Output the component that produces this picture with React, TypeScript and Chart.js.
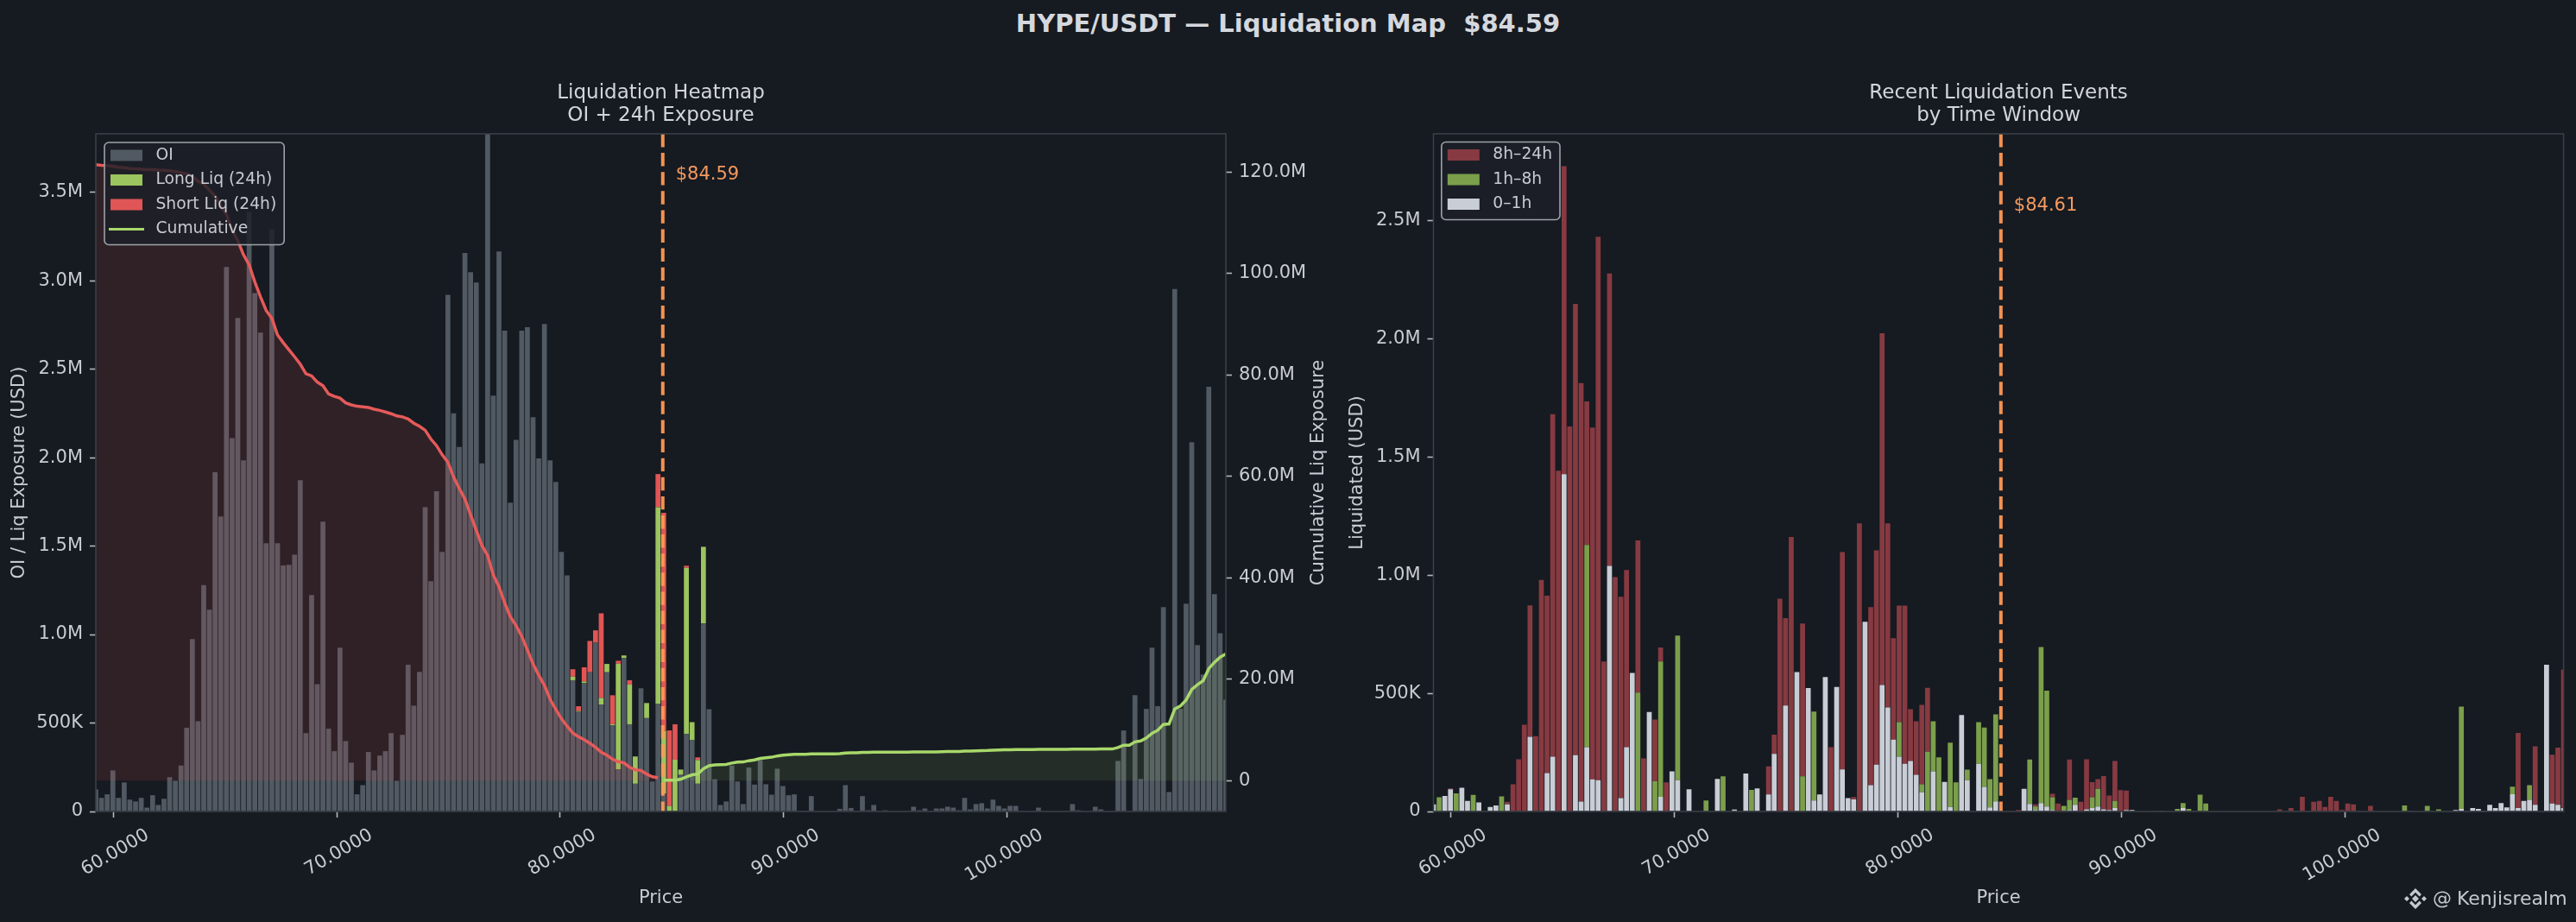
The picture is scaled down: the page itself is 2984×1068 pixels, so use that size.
import { useEffect, useRef } from "react";
import { Chart, registerables } from "chart.js";

Chart.register(...registerables);

const FONT = "'DejaVu Sans', 'Liberation Sans', sans-serif";
const BG = "#161a21";
const TEXT = "#c8ccd2";
const TICK = "#b4b8be";

// price bins (USD): centre of the first bin and bin width
const BIN_START = 59.22;
const BIN_STEP = 0.2541;
const X_TICKS = [60, 70, 80, 90, 100];

const PRICE_LEFT = 84.59;
const PRICE_RIGHT = 84.61;

// ---- left panel, USD millions per price bin ----
const OI = [
  0.125, 0.077, 0.097, 0.232, 0.077, 0.164, 0.067, 0.057, 0.077, 0.022, 0.092, 0.037, 0.072, 0.194, 0.174, 0.26, 0.473, 0.974, 0.51, 1.28,
  1.14, 1.917, 1.668, 3.078, 2.11, 2.79, 1.985, 3.39, 2.93, 2.707, 1.516, 3.29, 1.516, 1.39, 1.394, 1.452, 1.872, 0.443, 1.223, 0.72,
  1.638, 0.468, 0.341, 0.926, 0.398, 0.276, 0.097, 0.149, 0.336, 0.232, 0.316, 0.341, 0.443, 0.174, 0.433, 0.829, 0.598, 0.789, 1.72, 1.302,
  1.81, 1.467, 2.92, 2.25, 2.06, 3.157, 3.048, 2.99, 1.967, 3.83, 2.35, 3.165, 2.717, 1.745, 2.1, 2.717, 2.737, 2.229, 1.995, 2.756,
  1.985, 1.862, 1.467, 1.335, 0.742, 0.563, 0.725, 0.787, 0.954, 0.605, 0.787, 0.486, 0.237, 0.867, 0.493, 0.157, 0.697, 0.528, 0.17, 0.607,
  0.1, 0, 0, 0.207, 0.438, 0.403, 0.157, 1.063, 0.578, 0.182, 0.037, 0.057, 0.26, 0.17, 0.042, 0.249, 0.152, 0.291, 0.154, 0.095,
  0.242, 0.144, 0.092, 0.097, 0, 0.005, 0.087, 0, 0, 0, 0, 0.015, 0.149, 0.02, 0, 0.087, 0.007, 0.037, 0, 0.007,
  0, 0, 0, 0, 0.027, 0.007, 0.017, 0, 0.017, 0.017, 0.027, 0.022, 0.007, 0.077, 0.012, 0.042, 0.047, 0.017, 0.067, 0.032,
  0.017, 0.032, 0.032, 0, 0, 0, 0.022, 0, 0, 0, 0, 0, 0.042, 0.007, 0, 0, 0.027, 0.012, 0, 0,
  0.286, 0.458, 0, 0.657, 0.184, 0.58, 0.926, 0.595, 1.155, 0.11, 2.953, 0.58, 1.175, 2.087, 0.941, 0.774, 2.4, 1.228, 1.008, 0.632,
];

const LONG_LIQ = [
  0, 0, 0, 0, 0, 0, 0, 0, 0, 0, 0, 0, 0, 0, 0, 0, 0, 0, 0, 0,
  0, 0, 0, 0, 0, 0, 0, 0, 0, 0, 0, 0, 0, 0, 0, 0, 0, 0, 0, 0,
  0, 0, 0, 0, 0, 0, 0, 0, 0, 0, 0, 0, 0, 0, 0, 0, 0, 0, 0, 0,
  0, 0, 0, 0, 0, 0, 0, 0, 0, 0, 0, 0, 0, 0, 0, 0, 0, 0, 0, 0,
  0, 0, 0, 0, 0.02, 0.005, 0.01, 0, 0, 0.037, 0.047, 0.007, 0.598, 0.015, 0.224, 0.154, 0, 0.085, 0, 1.113,
  0.356, 0.032, 0.293, 0.03, 0.939, 0.102, 0.134, 0.433, 0, 0, 0, 0, 0, 0, 0, 0, 0, 0, 0, 0,
  0, 0, 0, 0, 0, 0, 0, 0, 0, 0, 0, 0, 0, 0, 0, 0, 0, 0, 0, 0,
  0, 0, 0, 0, 0, 0, 0, 0, 0, 0, 0, 0, 0, 0, 0, 0, 0, 0, 0, 0,
  0, 0, 0, 0, 0, 0, 0, 0, 0, 0, 0, 0, 0, 0, 0, 0, 0, 0, 0, 0,
  0, 0, 0, 0, 0, 0, 0, 0, 0, 0, 0, 0, 0, 0, 0, 0, 0, 0, 0, 0,
];

const SHORT_LIQ = [
  0, 0, 0, 0, 0, 0, 0, 0, 0, 0, 0, 0, 0, 0, 0, 0, 0, 0, 0, 0,
  0, 0, 0, 0, 0, 0, 0, 0, 0, 0, 0, 0, 0, 0, 0, 0, 0, 0, 0, 0,
  0, 0, 0, 0, 0, 0, 0, 0, 0, 0, 0, 0, 0, 0, 0, 0, 0, 0, 0, 0,
  0, 0, 0, 0, 0, 0, 0, 0, 0, 0, 0, 0, 0, 0, 0, 0, 0, 0, 0, 0,
  0, 0, 0, 0, 0.042, 0.027, 0.08, 0.177, 0.07, 0.478, 0, 0.164, 0.017, 0, 0.025, 0, 0, 0, 0, 0.187,
  1.232, 0.426, 0.2, 0, 0.012, 0, 0.015, 0, 0, 0, 0, 0, 0, 0, 0, 0, 0, 0, 0, 0,
  0, 0, 0, 0, 0, 0, 0, 0, 0, 0, 0, 0, 0, 0, 0, 0, 0, 0, 0, 0,
  0, 0, 0, 0, 0, 0, 0, 0, 0, 0, 0, 0, 0, 0, 0, 0, 0, 0, 0, 0,
  0, 0, 0, 0, 0, 0, 0, 0, 0, 0, 0, 0, 0, 0, 0, 0, 0, 0, 0, 0,
  0, 0, 0, 0, 0, 0, 0, 0, 0, 0, 0, 0, 0, 0, 0, 0, 0, 0, 0, 0,
];

const Y_TICKS_LEFT = [0, 0.5, 1, 1.5, 2, 2.5, 3, 3.5];
const Y_MAX_LEFT = 3.83;
const Y2_TICKS = [0, 20, 40, 60, 80, 100, 120];

// ---- right panel, USD millions liquidated per price bin ----
const LIQ_0_1H = [
  0.03, 0, 0.066, 0.094, 0, 0.1, 0.045, 0, 0.038, 0, 0.019, 0.026, 0, 0.03, 0, 0, 0, 0.316, 0, 0,
  0.163, 0.232, 0, 1.427, 0, 0.238, 0.042, 0.272, 0.136, 0.132, 0, 1.039, 0, 0.057, 0.272, 0.586, 0, 0, 0.421, 0,
  0.062, 0, 0.17, 0.132, 0, 0.094, 0, 0, 0, 0, 0.138, 0, 0, 0.008, 0, 0.161, 0, 0.098, 0, 0.072,
  0.244, 0, 0.448, 0, 0.59, 0, 0.522, 0.047, 0.072, 0.569, 0, 0.527, 0.178, 0.057, 0.051, 0, 0.803, 0.111, 0.198, 0.535,
  0.44, 0.304, 0.232, 0.202, 0.214, 0.155, 0.081, 0, 0.17, 0, 0.125, 0.019, 0, 0.408, 0.132, 0, 0.202, 0.104, 0.017, 0.043,
  0, 0, 0, 0, 0.096, 0.032, 0.006, 0.036, 0.021, 0.006, 0, 0, 0.006, 0.028, 0, 0.009, 0.015, 0.021, 0.009, 0.006,
  0.015, 0, 0.006, 0.006, 0, 0, 0, 0, 0.003, 0, 0, 0, 0.015, 0, 0, 0, 0, 0, 0, 0,
  0, 0, 0, 0, 0, 0, 0, 0, 0, 0, 0, 0, 0, 0, 0, 0, 0, 0, 0, 0,
  0, 0, 0, 0, 0, 0, 0, 0, 0, 0, 0, 0, 0.003, 0, 0, 0, 0, 0, 0, 0,
  0.006, 0.011, 0, 0.015, 0.011, 0.004, 0.028, 0.015, 0.036, 0.017, 0.073, 0.015, 0.045, 0.049, 0.028, 0, 0.621, 0.034, 0.028, 0.015,
];

const LIQ_1_8H = [
  0, 0.06, 0, 0, 0.077, 0, 0, 0.07, 0, 0, 0, 0, 0.064, 0, 0, 0, 0, 0, 0, 0,
  0, 0, 0, 0, 0, 0, 0, 0.856, 0, 0, 0, 0, 0, 0, 0, 0, 0.503, 0, 0, 0.128,
  0.573, 0, 0, 0.612, 0, 0, 0, 0, 0.047, 0, 0, 0.149, 0, 0, 0, 0, 0.091, 0, 0, 0,
  0, 0, 0, 0, 0, 0.149, 0, 0.376, 0, 0, 0, 0, 0, 0, 0, 0, 0, 0, 0, 0,
  0, 0, 0.146, 0, 0, 0, 0.034, 0.253, 0.212, 0.229, 0, 0.272, 0.123, 0, 0.045, 0, 0.176, 0.251, 0.12, 0.368,
  0, 0, 0, 0, 0, 0.188, 0.015, 0.66, 0.49, 0.054, 0, 0.024, 0.043, 0.03, 0, 0, 0.045, 0.075, 0, 0,
  0.03, 0, 0, 0, 0, 0, 0, 0, 0, 0, 0, 0.011, 0.021, 0.011, 0.003, 0.071, 0.034, 0, 0, 0,
  0, 0, 0, 0, 0, 0, 0, 0, 0, 0, 0, 0, 0, 0, 0, 0, 0, 0, 0, 0,
  0, 0, 0, 0, 0, 0, 0, 0, 0, 0, 0, 0.026, 0, 0, 0, 0.024, 0, 0.009, 0, 0,
  0, 0.433, 0, 0, 0, 0, 0, 0, 0, 0, 0.032, 0, 0, 0.062, 0, 0, 0, 0, 0, 0,
];

const LIQ_8_24H = [
  0, 0, 0, 0.004, 0, 0, 0, 0, 0, 0, 0, 0, 0, 0.011, 0.115, 0.221, 0.367, 0.556, 0.319, 0.98,
  0.75, 1.449, 1.442, 1.304, 1.629, 1.91, 1.771, 0.607, 1.489, 2.3, 0.635, 1.238, 0.992, 0.852, 0.75, 0, 0.644, 0.225, 0, 0.261,
  0.059, 0.123, 0, 0, 0, 0, 0, 0, 0, 0, 0, 0, 0, 0, 0, 0, 0, 0, 0, 0.119,
  0.081, 0.9, 0.37, 1.162, 0, 0.646, 0, 0, 0, 0, 0.272, 0, 0.92, 0, 0.01, 1.219, 0, 0.754, 0.907, 1.489,
  0.779, 0.429, 0.493, 0.669, 0.219, 0.227, 0.336, 0.27, 0, 0, 0, 0, 0, 0, 0, 0, 0, 0, 0, 0,
  0, 0, 0, 0.006, 0, 0, 0.009, 0, 0, 0.015, 0.034, 0, 0.171, 0, 0.041, 0.212, 0.064, 0.041, 0.141, 0.062,
  0.169, 0.09, 0.083, 0, 0, 0, 0, 0, 0, 0, 0, 0, 0, 0, 0, 0, 0, 0, 0, 0,
  0, 0, 0, 0, 0, 0, 0, 0, 0, 0.009, 0, 0.015, 0, 0.062, 0.004, 0.041, 0.045, 0.019, 0.062, 0.045,
  0.006, 0.034, 0.03, 0, 0, 0.024, 0, 0, 0, 0, 0, 0, 0, 0, 0, 0, 0, 0, 0, 0,
  0, 0, 0, 0, 0, 0, 0, 0, 0, 0, 0, 0.317, 0, 0, 0.248, 0, 0, 0.206, 0.242, 0.585,
];

const Y_TICKS_RIGHT = [0, 0.5, 1, 1.5, 2, 2.5];

// ---- derived ----
const binX = OI.map((_, i) => +(BIN_START + i * BIN_STEP).toFixed(4));
const X_MIN = binX[0];
const X_MAX = binX[binX.length - 1];

// cumulative OI running outward from the current price
const split = binX.findIndex((x) => x >= PRICE_LEFT);
const cumBelow: { x: number; y: number }[] = [];
let run = 0;
for (let i = split - 1; i >= 0; i--) {
  run += OI[i];
  cumBelow.unshift({ x: binX[i], y: run });
}
const cumAbove: { x: number; y: number }[] = [];
run = 0;
for (let i = split; i < OI.length; i++) {
  run += OI[i];
  cumAbove.push({ x: binX[i], y: run });
}
const cumMax = Math.max(cumBelow[0].y, cumAbove[cumAbove.length - 1].y);

const rightTotals = binX.map((_, i) => LIQ_0_1H[i] + LIQ_1_8H[i] + LIQ_8_24H[i]);

const fmtM = (v: number) => (v === 0 ? "0" : v >= 1 ? `${v.toFixed(1)}M` : `${Math.round(v * 1000)}K`);
const pts = (arr: number[]) => arr.map((y, i) => ({ x: binX[i], y }));

// ---- plugins ----
const framePlugin = {
  id: "frame",
  afterDraw(chart: any) {
    const { ctx, chartArea: a } = chart;
    ctx.save();
    ctx.strokeStyle = "#3a3f47";
    ctx.lineWidth = 1.6;
    ctx.strokeRect(a.left, a.top, a.right - a.left, a.bottom - a.top);
    ctx.restore();
  },
};

const priceMarker = {
  id: "priceMarker",
  afterDatasetsDraw(chart: any, _args: any, opts: any) {
    const { ctx, chartArea: a } = chart;
    const x = chart.scales.x.getPixelForValue(opts.value);
    ctx.save();
    ctx.beginPath();
    ctx.rect(a.left, a.top, a.right - a.left, a.bottom - a.top);
    ctx.clip();
    ctx.beginPath();
    ctx.setLineDash([15.4, 6.7]);
    ctx.lineWidth = 4;
    ctx.strokeStyle = "rgba(255,154,85,0.95)";
    ctx.moveTo(x, a.top);
    ctx.lineTo(x, a.bottom);
    ctx.stroke();
    ctx.setLineDash([]);
    ctx.fillStyle = "#f59a5e";
    ctx.font = `21px ${FONT}`;
    ctx.textBaseline = "middle";
    ctx.fillText(`$${opts.value.toFixed(2)}`, x + 15, a.top + opts.labelAt * (a.bottom - a.top));
    ctx.restore();
  },
};

const boxLegend = {
  id: "boxLegend",
  afterDraw(chart: any, _args: any, opts: any) {
    const { ctx, chartArea: a } = chart;
    const items = chart.data.datasets
      .filter((d: any) => d.legendRank !== undefined)
      .sort((p: any, q: any) => p.legendRank - q.legendRank);
    ctx.save();
    ctx.font = `18.7px ${FONT}`;
    const tw = Math.max(...items.map((d: any) => ctx.measureText(d.label).width));
    const x0 = a.left + opts.dx;
    const y0 = a.top + opts.dy;
    const w = 7 + 37 + 15.5 + tw + 9;
    const h = 15 + (items.length - 1) * 28.5 + 18;
    ctx.beginPath();
    ctx.roundRect(x0, y0, w, h, 5);
    ctx.fillStyle = "rgba(28,32,39,0.82)";
    ctx.fill();
    ctx.strokeStyle = "#9ea2a8";
    ctx.lineWidth = 1.6;
    ctx.stroke();
    ctx.textBaseline = "middle";
    items.forEach((d: any, i: number) => {
      const cy = y0 + 15 + i * 28.5;
      if (d.type === "line") {
        ctx.beginPath();
        ctx.strokeStyle = d.borderColor;
        ctx.lineWidth = 3;
        ctx.moveTo(x0 + 5, cy);
        ctx.lineTo(x0 + 46, cy);
        ctx.stroke();
      } else {
        ctx.fillStyle = d.backgroundColor;
        ctx.fillRect(x0 + 7, cy - 6.5, 37, 13);
      }
      ctx.fillStyle = TEXT;
      ctx.fillText(d.label, x0 + 59.5, cy);
    });
    ctx.restore();
  },
};

// right-hand axis title that reads bottom-to-top like the left one
const sideTitle = {
  id: "sideTitle",
  afterDraw(chart: any, _args: any, opts: any) {
    if (!opts.text) return;
    const { ctx, chartArea: a } = chart;
    ctx.save();
    ctx.translate(chart.width - opts.fromRight, (a.top + a.bottom) / 2);
    ctx.rotate(-Math.PI / 2);
    ctx.textAlign = "center";
    ctx.textBaseline = "middle";
    ctx.font = `21px ${FONT}`;
    ctx.fillStyle = TEXT;
    ctx.fillText(opts.text, 0, 0);
    ctx.restore();
  },
};

// ---- shared axis pieces ----
const tickFont = { family: FONT, size: 21 };
const tickGrid = {
  display: true,
  drawOnChartArea: false,
  drawTicks: true,
  tickLength: 7,
  tickWidth: 1.6,
  tickColor: TICK,
  offset: false,
};

const xAxis = () => ({
  type: "linear",
  min: X_MIN,
  max: X_MAX,
  offset: false,
  stacked: true,
  afterBuildTicks: (s: any) => {
    s.ticks = X_TICKS.map((value) => ({ value }));
  },
  afterFit: (s: any) => {
    s.height = 128;
  },
  grid: tickGrid,
  border: { display: false },
  ticks: {
    color: TEXT,
    font: tickFont,
    minRotation: 30,
    maxRotation: 30,
    labelOffset: 40,
    padding: 8,
    autoSkip: false,
    callback: (v: any) => Number(v).toFixed(4),
  },
  title: { display: true, text: "Price", color: TEXT, font: { family: FONT, size: 21 }, padding: { top: 0, bottom: 15 } },
});

const subTitle = (lines: string[]) => ({
  display: true,
  text: lines,
  color: "#d2d6dc",
  fullSize: false,
  font: { family: FONT, size: 23, weight: "normal", lineHeight: 1.15 },
  padding: { top: 94.5, bottom: 7.6 },
});

const leftConfig = (): any => ({
  type: "bar",
  data: {
    datasets: [
      {
        type: "line",
        label: "Cumulative (below)",
        data: cumBelow,
        yAxisID: "y2",
        borderColor: "#e65a5a",
        backgroundColor: "rgba(226,86,86,0.13)",
        fill: { value: 0 },
        borderWidth: 3.5,
        pointRadius: 0,
        order: 0,
      },
      {
        type: "line",
        label: "Cumulative",
        data: cumAbove,
        yAxisID: "y2",
        borderColor: "#a8d86b",
        backgroundColor: "rgba(168,216,107,0.1)",
        fill: { value: 0 },
        borderWidth: 3.5,
        pointRadius: 0,
        order: 0,
        legendRank: 3,
      },
      { label: "OI", data: pts(OI), yAxisID: "y", backgroundColor: "#515962", order: 1, legendRank: 0 },
      { label: "Long Liq (24h)", data: pts(LONG_LIQ), yAxisID: "y", backgroundColor: "#9cc45f", order: 1, legendRank: 1 },
      { label: "Short Liq (24h)", data: pts(SHORT_LIQ), yAxisID: "y", backgroundColor: "#e05555", order: 1, legendRank: 2 },
    ],
  },
  options: {
    responsive: false,
    animation: false,
    events: [],
    datasets: { bar: { barPercentage: 0.87, categoryPercentage: 1, borderWidth: 0 } },
    layout: { padding: 0 },
    scales: {
      x: xAxis(),
      y: {
        type: "linear",
        position: "left",
        stacked: true,
        min: 0,
        max: Y_MAX_LEFT,
        afterBuildTicks: (s: any) => {
          s.ticks = Y_TICKS_LEFT.map((value) => ({ value }));
        },
        afterFit: (s: any) => {
          s.width = 111;
        },
        grid: tickGrid,
        border: { display: false },
        ticks: { color: TEXT, font: tickFont, padding: 8, callback: (v: any) => fmtM(Number(v)) },
        title: { display: true, text: "OI / Liq Exposure (USD)", color: TEXT, font: { family: FONT, size: 21 }, padding: { top: 10, bottom: 0 } },
      },
      y2: {
        type: "linear",
        position: "right",
        min: -0.05 * cumMax,
        max: 1.05 * cumMax,
        afterBuildTicks: (s: any) => {
          s.ticks = Y2_TICKS.map((value) => ({ value }));
        },
        afterFit: (s: any) => {
          s.width = 135;
        },
        grid: tickGrid,
        border: { display: false },
        ticks: { color: TEXT, font: tickFont, padding: 8, callback: (v: any) => fmtM(Number(v)) },
      },
    },
    plugins: {
      legend: { display: false },
      tooltip: { enabled: false },
      title: subTitle(["Liquidation Heatmap", "OI + 24h Exposure"]),
      priceMarker: { value: PRICE_LEFT, labelAt: 0.061 },
      boxLegend: { dx: 10, dy: 10 },
      sideTitle: { text: "Cumulative Liq Exposure", fromRight: 27 },
    },
  },
  plugins: [priceMarker, boxLegend, sideTitle, framePlugin],
});

const rightConfig = (): any => ({
  type: "bar",
  data: {
    datasets: [
      { label: "0–1h", data: pts(LIQ_0_1H), backgroundColor: "#c9ced6", legendRank: 2 },
      { label: "1h–8h", data: pts(LIQ_1_8H), backgroundColor: "#7b9f4b", legendRank: 1 },
      { label: "8h–24h", data: pts(LIQ_8_24H), backgroundColor: "#873a41", legendRank: 0 },
    ],
  },
  options: {
    responsive: false,
    animation: false,
    events: [],
    datasets: { bar: { barPercentage: 0.87, categoryPercentage: 1, borderWidth: 0 } },
    layout: { padding: { right: 14.4 } },
    scales: {
      x: xAxis(),
      y: {
        type: "linear",
        position: "left",
        stacked: true,
        min: 0,
        max: Math.max(...rightTotals) * 1.05,
        afterBuildTicks: (s: any) => {
          s.ticks = Y_TICKS_RIGHT.map((value) => ({ value }));
        },
        afterFit: (s: any) => {
          s.width = 105.5;
        },
        grid: tickGrid,
        border: { display: false },
        ticks: { color: TEXT, font: tickFont, padding: 8, callback: (v: any) => fmtM(Number(v)) },
        title: { display: true, text: "Liquidated (USD)", color: TEXT, font: { family: FONT, size: 21 }, padding: { top: 4.5, bottom: 0 } },
      },
    },
    plugins: {
      legend: { display: false },
      tooltip: { enabled: false },
      title: subTitle(["Recent Liquidation Events", "by Time Window"]),
      priceMarker: { value: PRICE_RIGHT, labelAt: 0.106 },
      boxLegend: { dx: 9.3, dy: 9.5 },
      sideTitle: {},
    },
  },
  plugins: [priceMarker, boxLegend, sideTitle, framePlugin],
});

function Panel({ make, left, width }: { make: () => any; left: number; width: number }) {
  const ref = useRef<HTMLCanvasElement>(null);
  useEffect(() => {
    const chart = new Chart(ref.current as HTMLCanvasElement, make());
    return () => chart.destroy();
  }, [make]);
  return (
    <canvas
      ref={ref}
      width={width}
      height={1068}
      style={{ position: "absolute", left, top: 0, width, height: 1068 }}
    />
  );
}

function BinanceMark() {
  return (
    <svg width="28" height="28" viewBox="0 0 28 28" style={{ marginRight: 6 }}>
      <g fill="#c5c9cf">
        <polygon points="14,10 18,14 14,18 10,14" />
        <polygon points="14,2 21,9 18.6,11.4 14,6.8 9.4,11.4 7,9" />
        <polygon points="14,26 21,19 18.6,16.6 14,21.2 9.4,16.6 7,19" />
        <polygon points="4,11 7,14 4,17 1,14" />
        <polygon points="24,11 27,14 24,17 21,14" />
      </g>
    </svg>
  );
}

export default function App() {
  return (
    <div
      style={{
        position: "absolute",
        left: 0,
        top: 0,
        width: 2984,
        height: 1068,
        background: BG,
        overflow: "hidden",
        fontFamily: FONT,
      }}
    >
      <div
        style={{
          position: "absolute",
          left: 0,
          top: 13,
          width: 2984,
          textAlign: "center",
          fontWeight: "bold",
          fontSize: 29,
          lineHeight: "29px",
          color: "#d4d8de",
          whiteSpace: "pre",
        }}
      >
        {"HYPE/USDT — Liquidation Map  $84.59"}
      </div>
      <Panel make={leftConfig} left={0} width={1555} />
      <Panel make={rightConfig} left={1555} width={1429} />
      <div
        style={{
          position: "absolute",
          left: 2784,
          top: 1027,
          display: "flex",
          alignItems: "center",
          fontSize: 22,
          lineHeight: "28px",
          color: "#c5c9cf",
        }}
      >
        <BinanceMark />
        <span style={{ marginRight: 6 }}>@</span>
        <span>Kenjisrealm</span>
      </div>
    </div>
  );
}
